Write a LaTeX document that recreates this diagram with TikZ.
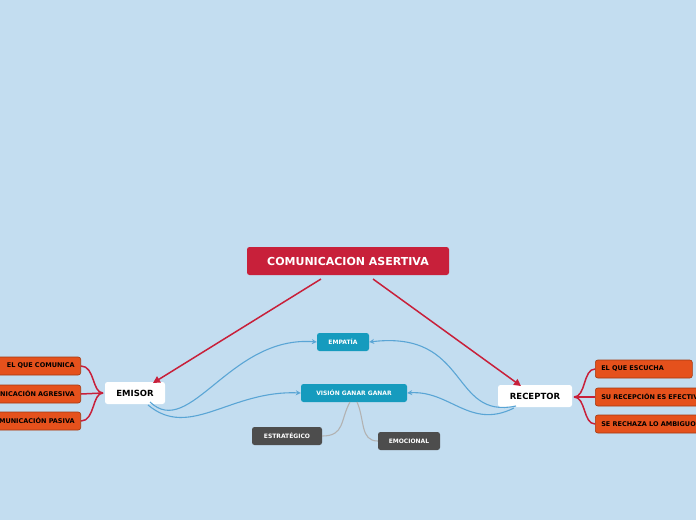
\documentclass[tikz,border=0pt]{standalone}
\usepackage{fontspec}
\setmainfont{DejaVu Sans}
\usetikzlibrary{arrows.meta}
\definecolor{bg}{HTML}{C3DDF0}
\definecolor{tred}{HTML}{C8203A}
\definecolor{tblue}{HTML}{169BBE}
\definecolor{tdark}{HTML}{4D4D4D}
\definecolor{orng}{HTML}{E5511C}
\definecolor{orngd}{HTML}{A33A12}
\definecolor{lblue}{HTML}{5AA5D5}
\tikzset{
 base/.style={rounded corners=2.5pt,font=\bfseries,inner sep=0pt,anchor=center},
 titlebox/.style={base,fill=tred,text=white,minimum width=202pt,minimum height=28pt,font=\bfseries\fontsize{11}{12}\selectfont},
 mainbox/.style={base,fill=white,text=black,minimum height=22pt,font=\bfseries\fontsize{8.5}{9}\selectfont},
 bluebox/.style={base,fill=tblue,text=white,minimum height=18pt,font=\bfseries\fontsize{6}{7}\selectfont},
 darkbox/.style={base,fill=tdark,text=white,minimum height=18pt,font=\bfseries\fontsize{6}{7}\selectfont},
 orbox/.style={base,fill=orng,draw=orngd,line width=0.6pt,text=black,minimum height=18pt,font=\bfseries\fontsize{6.5}{7}\selectfont},
 redarr/.style={tred,line width=1.5pt,-{Triangle[length=7pt,width=7pt]}},
 redbr/.style={tred,line width=1.5pt},
 bluearr/.style={lblue,line width=1.1pt,-{Stealth[open,length=5pt,width=5pt]}},
 grayln/.style={gray!60,line width=1.1pt}
}
\begin{document}
\begin{tikzpicture}[x=1pt,y=-1pt]
\fill[bg] (0,0) rectangle (696,520);
\useasboundingbox (0,0) rectangle (696,520);
\clip (0,0) rectangle (696,520);
\node[titlebox] (t) at (348,261) {COMUNICACION ASERTIVA};
\node[mainbox,minimum width=60pt] (em) at (135,393) {EMISOR};
\node[mainbox,minimum width=74pt] (re) at (535,396) {RECEPTOR};
\node[bluebox,minimum width=52pt] (ep) at (343,342) {EMPATÍA};
\node[bluebox,minimum width=106pt] (vg) at (354,393) {VISIÓN GANAR GANAR};
\node[darkbox,minimum width=70pt] (es) at (287,436) {ESTRATÉGICO};
\node[darkbox,minimum width=62pt] (eo) at (409,441) {EMOCIONAL};
\node[orbox,text width=110pt,align=right,inner xsep=6pt,anchor=east] (l1) at (81,366) {EL QUE COMUNICA};
\node[orbox,text width=110pt,align=right,inner xsep=6pt,anchor=east] (l2) at (81,394) {COMUNICACIÓN AGRESIVA};
\node[orbox,text width=110pt,align=right,inner xsep=6pt,anchor=east] (l3) at (81,421) {COMUNICACIÓN PASIVA};
\node[orbox,text width=85pt,align=left,inner xsep=6pt,anchor=west] (r1) at (595,369) {EL QUE ESCUCHA};
\node[orbox,text width=130pt,align=left,inner xsep=6pt,anchor=west] (r2) at (595,397) {SU RECEPCIÓN ES EFECTIVA};
\node[orbox,text width=130pt,align=left,inner xsep=6pt,anchor=west] (r3) at (595,424) {SE RECHAZA LO AMBIGUO};
\coordinate (ta) at (321,279); \coordinate (tb) at (373,279);
\coordinate (ea) at (153,383); \coordinate (ra) at (521,386);
\draw[redarr] (ta) -- (ea);
\draw[redarr] (tb) -- (ra);
\coordinate (emL) at (103,393);
\draw[redbr] (emL) .. controls (92,393) and (95,366) .. (l1.east);
\draw[redbr] (emL) -- (l2.east);
\draw[redbr] (emL) .. controls (92,393) and (95,421) .. (l3.east);
\coordinate (reR) at (574,397);
\draw[redbr] (reR) .. controls (586,397) and (583,369) .. (r1.west);
\draw[redbr] (reR) -- (r2.west);
\draw[redbr] (reR) .. controls (586,397) and (583,424) .. (r3.west);
\coordinate (e1) at (150,402); \coordinate (e2) at (148,405);
\coordinate (r1a) at (516,406); \coordinate (r2a) at (514,408);
\draw[bluearr] (e1) .. controls (190,440) and (230,335) .. (ep.west);
\draw[bluearr] (e2) .. controls (190,440) and (230,390) .. (vg.west);
\draw[bluearr] (r1a) .. controls (450,420) and (470,330) .. (ep.east);
\draw[bluearr] (r2a) .. controls (470,430) and (450,390) .. (vg.east);
\coordinate (v1) at (350,402); \coordinate (v2) at (357,402);
\draw[grayln] (v1) .. controls (340,420) and (345,436) .. (es.east);
\draw[grayln] (v2) .. controls (365,420) and (360,441) .. (eo.west);
\end{tikzpicture}
\end{document}
